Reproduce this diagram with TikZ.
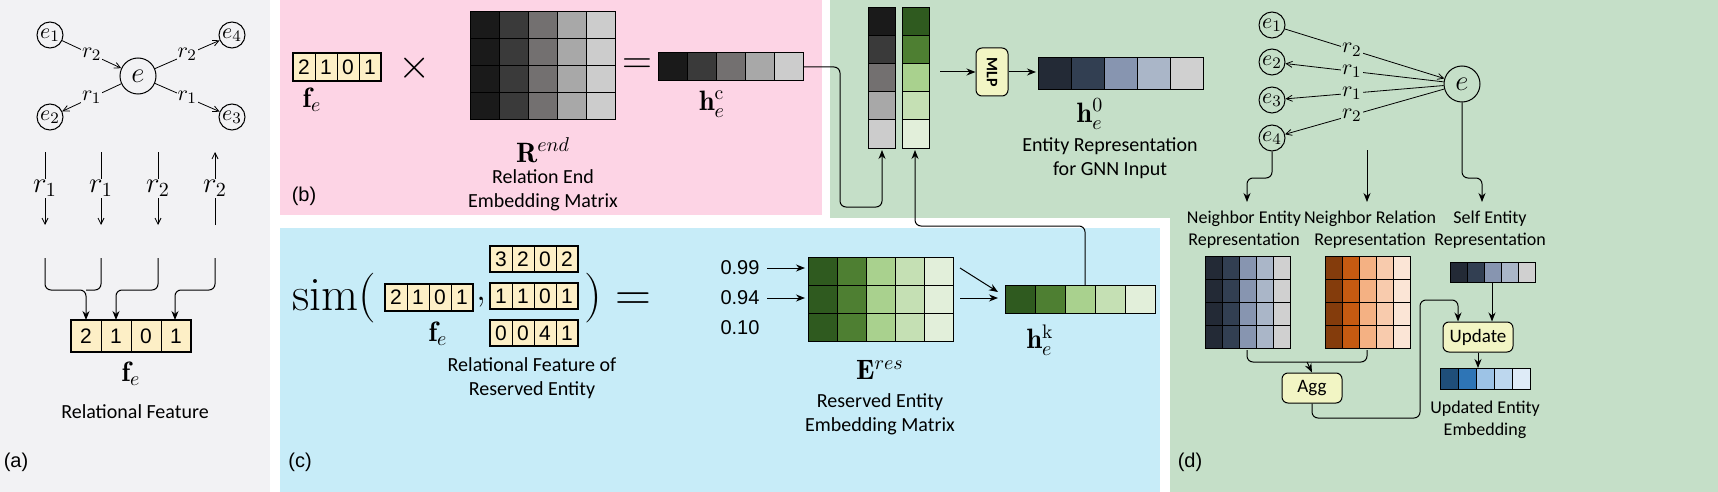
\documentclass[tikz,border=0pt]{standalone}
\usepackage{fontspec}
\setsansfont{Carlito}
\newfontfamily\numfont{Liberation Sans}
\usetikzlibrary{arrows.meta,calc}
\definecolor{abg}{HTML}{F2F2F4}
\definecolor{pinkbg}{HTML}{FDD4E5}
\definecolor{greenbg}{HTML}{C5DFC8}
\definecolor{bluebg}{HTML}{C7ECF8}
\definecolor{boxy}{HTML}{FDEFC6}
\definecolor{mlpy}{HTML}{F2F5C4}
\definecolor{g1}{HTML}{1A1A1A}\definecolor{g2}{HTML}{3A3A3A}\definecolor{g3}{HTML}{737070}\definecolor{g4}{HTML}{A8A8A8}\definecolor{g5}{HTML}{CCCCCC}
\definecolor{n1}{HTML}{2F5A1F}\definecolor{n2}{HTML}{4E7F32}\definecolor{n3}{HTML}{A9D18E}\definecolor{n4}{HTML}{C5E0B4}\definecolor{n5}{HTML}{E2EFDA}
\definecolor{s1}{HTML}{232A36}\definecolor{s2}{HTML}{323F52}\definecolor{s3}{HTML}{8795B0}\definecolor{s4}{HTML}{AAB6C8}\definecolor{s5}{HTML}{D0D0D0}
\definecolor{o1}{HTML}{843C0C}\definecolor{o2}{HTML}{C55A11}\definecolor{o3}{HTML}{F4B183}\definecolor{o4}{HTML}{F8CBAD}\definecolor{o5}{HTML}{FBE5D6}
\definecolor{b1}{HTML}{1F4E79}\definecolor{b2}{HTML}{2E75B6}\definecolor{b3}{HTML}{9DC3E6}\definecolor{b4}{HTML}{BDD7EE}\definecolor{b5}{HTML}{DEEBF7}
\newcommand\numrow[5]{\foreach \v [count=\i from 0] in {#5}{%
  \draw[fill=boxy,line width=0.5pt] ({#1+\i*#3},#2) rectangle ++(#3,#4);
  \node[font=\numfont\fontsize{10.5}{12}\selectfont] at ({#1+\i*#3+#3/2},{#2+#4/2}) {\v};}
  \draw[line width=0.7pt] (#1,#2) rectangle ++({4*#3},#4);}
\newcommand\cellgrid[6]{\foreach \c [count=\i from 0] in {#6}{\foreach \r in {1,...,#5}{%
  \draw[fill=\c,line width=0.5pt] ({#1+\i*#3},{#2+(\r-1)*#4}) rectangle ++(#3,#4);}}}
\newcommand\cellcol[5]{\foreach \c [count=\i from 0] in {#5}{%
  \draw[fill=\c,line width=0.5pt] (#1,{#2+\i*#4}) rectangle ++(#3,#4);}}
\begin{document}
\begin{tikzpicture}[x=0.5pt,y=-0.5pt,
  arr/.style={-{Stealth[length=4.5pt,width=3.5pt]},line width=0.5pt},
  sarr/.style={-{Straight Barb[length=3pt,width=3pt]},line width=0.4pt},
  ent/.style={circle,draw,line width=0.5pt,inner sep=0pt,minimum size=13pt,font=\fontsize{11}{12}\selectfont},
  bigent/.style={ent,minimum size=18pt,font=\fontsize{15}{16}\selectfont},
  rl/.style={inner sep=0.5pt,font=\fontsize{11}{12}\selectfont},
  lbl/.style={font=\sffamily\fontsize{10}{12}\selectfont,align=center},
  dlbl/.style={font=\sffamily\fontsize{9}{11}\selectfont,align=center},
  mth/.style={font=\fontsize{14}{16}\selectfont},
  pan/.style={font=\numfont\fontsize{10}{12}\selectfont},
  ybox/.style={draw,fill=mlpy,rounded corners=3pt,line width=0.5pt,font=\sffamily\fontsize{9.5}{11}\selectfont},
  rc/.style={rounded corners=3pt}]
\useasboundingbox (0,0) rectangle (1718,492);
% panels
\fill[abg] (0,0) rectangle (270,492);
\fill[pinkbg] (280,0) rectangle (822,215);
\fill[greenbg] (830,0) rectangle (1718,218);
\fill[greenbg] (1170,210) rectangle (1718,492);
\fill[bluebg] (280,228) rectangle (1160,492);
% ---------- (a)
\node[ent] (a1) at (50,35) {$e_1$};
\node[ent] (a4) at (232,35) {$e_4$};
\node[bigent] (ae) at (138,76) {$e$};
\node[ent] (a2) at (50,117) {$e_2$};
\node[ent] (a3) at (232,117) {$e_3$};
\draw[sarr] (a1) -- node[rl,fill=abg]{$r_2$} (ae);
\draw[sarr] (ae) -- node[rl,fill=abg]{$r_2$} (a4);
\draw[sarr] (ae) -- node[rl,fill=abg]{$r_1$} (a2);
\draw[sarr] (ae) -- node[rl,fill=abg]{$r_1$} (a3);
\foreach \x/\r [count=\k] in {45/1,101/1,158/2}{
  \coordinate (vt\k) at (\x,152); \coordinate (vb\k) at (\x,225);
  \draw[sarr] (vt\k) -- node[rl,fill=abg,font=\fontsize{14}{16}\selectfont]{$r_\r$} (vb\k);}
\coordinate (vt4) at (215,152); \coordinate (vb4) at (215,225);
\draw[sarr] (vb4) -- node[rl,fill=abg,font=\fontsize{14}{16}\selectfont]{$r_2$} (vt4);
\numrow{71}{320}{30}{32}{2,1,0,1}
\coordinate (fa) at (86,320);\coordinate (fb) at (116,320);\coordinate (fc) at (175,320);
\draw[arr,rc] (45,258) |- (86,290) -- (fa);
\draw[rc,line width=0.5pt] (101,258) |- (86,290);
\draw[arr,rc] (158,258) |- (116,290) -- (fb);
\draw[arr,rc] (215,258) |- (175,290) -- (fc);
\node[mth] (afe) at (131,374) {$\mathbf{f}_e$};
\node[lbl] (arf) at (135,412) {Relational Feature};
\node[pan] (pa) at (16,462) {(a)};
% ---------- (b)
\numrow{293}{53}{22}{28}{2,1,0,1}
\node[mth] (bfe) at (312,100) {$\mathbf{f}_e$};
\node[font=\fontsize{20}{22}\selectfont] (bx) at (415,68) {$\times$};
\cellgrid{470}{12}{29}{27}{4}{g1,g2,g3,g4,g5}
\node[mth] (bR) at (543,150) {$\mathbf{R}^{end}$};
\node[lbl] (bRt) at (543,190) {Relation End\\Embedding Matrix};
\node[font=\fontsize{20}{22}\selectfont] (beq) at (637,66) {$=$};
\cellgrid{658}{53}{29}{28}{1}{g1,g2,g3,g4,g5}
\coordinate (hcR) at (803,67);
\node[mth] (bhc) at (712,104) {$\mathbf{h}_e^{\mathrm{c}}$};
\node[pan] (pb) at (304,196) {(b)};
% ---------- green top
\cellcol{868}{8}{27}{28}{g1,g2,g3,g4,g5}
\cellcol{902}{8}{27}{28}{n1,n2,n3,n4,n5}
\coordinate (gcol) at (882,150); \coordinate (ncol) at (915,150);
\node[ybox,minimum width=16pt,minimum height=24pt] (mlp) at (992,72) {};
\node[rotate=-90,font=\sffamily\bfseries\fontsize{8}{9}\selectfont] at (mlp) {MLP};
\draw[arr] (940,72) -- (mlp.west);
\draw[arr] (mlp.east) -- (1036,72);
\cellgrid{1038}{58}{33}{32}{1}{s1,s2,s3,s4,s5}
\node[mth] (h0) at (1090,114) {$\mathbf{h}_e^{0}$};
\node[lbl] (h0t) at (1110,158) {Entity Representation\\for GNN Input};
\draw[arr,rc] (hcR) -- (840,67) |- (882,207) -- (gcol);
% ---------- (c)
\node[font=\fontsize{24}{26}\selectfont,anchor=east] (sim) at (383,298) {$\mathrm{sim}($};
\numrow{385}{284}{22}{27}{2,1,0,1}
\node[mth] (cfe) at (438,334) {$\mathbf{f}_e$};
\node[font=\fontsize{16}{18}\selectfont] (cco) at (481,302) {$,$};
\numrow{490}{246}{22}{26}{3,2,0,2}
\numrow{490}{283}{22}{26}{1,1,0,1}
\numrow{490}{320}{22}{26}{0,0,4,1}
\node[font=\fontsize{24}{26}\selectfont,anchor=west] (cpar) at (577,298) {$)=$};
\node[lbl] (crf) at (532,378) {Relational Feature of\\Reserved Entity};
\node[pan] (c1) at (740,268) {0.99};
\node[pan] (c2) at (740,298) {0.94};
\node[pan] (c3) at (740,328) {0.10};
\draw[arr] (767,268) -- (805,268);
\draw[arr] (767,298) -- (805,298);
\cellgrid{808}{257}{29}{28}{3}{n1,n2,n3,n4,n5}
\node[mth] (cE) at (880,370) {$\mathbf{E}^{res}$};
\node[lbl] (cEt) at (880,414) {Reserved Entity\\Embedding Matrix};
\draw[arr] (960,268) -- (998,292);
\draw[arr] (960,298) -- (998,298);
\cellgrid{1005}{285}{30}{28}{1}{n1,n2,n3,n4,n5}
\node[mth] (chk) at (1040,340) {$\mathbf{h}_e^{\mathrm{k}}$};
\coordinate (hkT) at (1085,285);
\draw[arr,rc] (hkT) |- (915,226) -- (ncol);
\node[pan] (pc) at (300,462) {(c)};
% ---------- (d)
\node[ent] (d1) at (1272,25) {$e_1$};
\node[ent] (d2) at (1272,62) {$e_2$};
\node[ent] (d3) at (1272,100) {$e_3$};
\node[ent] (d4) at (1272,138) {$e_4$};
\node[bigent] (de) at (1462,84) {$e$};
\draw[sarr] (d1) -- node[rl,fill=greenbg,pos=0.42]{$r_2$} (de);
\draw[sarr] (de) -- node[rl,fill=greenbg,pos=0.58]{$r_1$} (d2);
\draw[sarr] (de) -- node[rl,fill=greenbg,pos=0.58]{$r_1$} (d3);
\draw[sarr] (de) -- node[rl,fill=greenbg,pos=0.58]{$r_2$} (d4);
\coordinate (dne) at (1247,202); \coordinate (dnr) at (1367,202); \coordinate (dse) at (1482,202);
\draw[arr,rc] (d4.south) |- (1247,178) -- (dne);
\draw[arr] (1367,150) -- (dnr);
\draw[arr,rc] (de.south) |- (1482,178) -- (dse);
\node[dlbl] (dt1) at (1244,230) {Neighbor Entity\\Representation};
\node[dlbl] (dt2) at (1370,230) {Neighbor Relation\\Representation};
\node[dlbl] (dt3) at (1490,230) {Self Entity\\Representation};
\cellgrid{1205}{256}{17}{23}{4}{s1,s2,s3,s4,s5}
\cellgrid{1325}{256}{17}{23}{4}{o1,o2,o3,o4,o5}
\cellgrid{1450}{262}{17}{20}{1}{s1,s2,s3,s4,s5}
\node[ybox,minimum width=30pt,minimum height=15pt] (agg) at (1312,388) {Agg};
\node[ybox,minimum width=34pt,minimum height=15pt] (upd) at (1478,337) {Update};
\coordinate (updin1) at ([xshift=7pt]upd.north);
\coordinate (updin2) at ([xshift=-10pt]upd.north);
\draw[rc,line width=0.5pt] (1247,350) |- (1367,362) -- (1367,350);
\draw[arr] (1307,362) -- (agg.north);
\draw[arr] (updin1 |- 0,282) -- (updin1);
\draw[arr,rc] (agg.south) |- (1420,418) |- (updin2 |- 0,300) -- (updin2);
\cellgrid{1440}{368}{18}{21}{1}{b1,b2,b3,b4,b5}
\draw[arr] (upd.south) -- (1478,368);
\node[dlbl] (dtu) at (1485,420) {Updated Entity\\Embedding};
\node[pan] (pd) at (1190,462) {(d)};
\end{tikzpicture}
\end{document}
